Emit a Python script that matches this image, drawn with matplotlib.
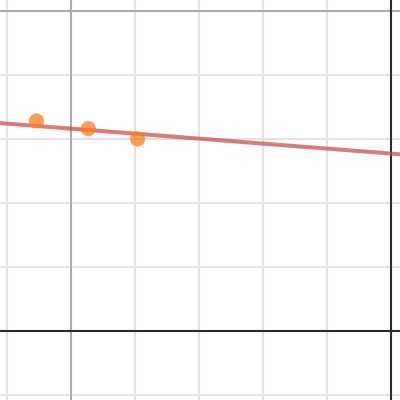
import numpy as np
import matplotlib
matplotlib.use("Agg")
import matplotlib.pyplot as plt

# data
pts_x = [-5.54, -4.73, -3.96]
pts_y = [3.28, 3.16, 3.00]
line_slope = -0.078
line_icpt = 2.77

xlim = (-6.11, 0.14)
ylim = (-1.08, 5.17)

fig = plt.figure(figsize=(4, 4), dpi=100)
ax = fig.add_axes([0, 0, 1, 1])
ax.set_xlim(*xlim)
ax.set_ylim(*ylim)

# grid: minor every unit, major every 5, axes in black
for gx in range(-7, 2):
    if gx == 0:
        ax.axvline(gx, color="#2b2b2b", lw=1.5, zorder=2)
    elif gx % 5 == 0:
        ax.axvline(gx, color="#ababab", lw=1.5, zorder=1)
    else:
        ax.axvline(gx, color="#e2e2e2", lw=1.5, zorder=0)
for gy in range(-2, 7):
    if gy == 0:
        ax.axhline(gy, color="#2b2b2b", lw=1.5, zorder=2)
    elif gy % 5 == 0:
        ax.axhline(gy, color="#ababab", lw=1.5, zorder=1)
    else:
        ax.axhline(gy, color="#e2e2e2", lw=1.5, zorder=0)

xs = np.array(xlim)
ax.plot(xs, line_slope * xs + line_icpt, color="#c74440", alpha=0.7, lw=2.9, zorder=3)
ax.scatter(pts_x, pts_y, s=120, color="#fa7e19", alpha=0.75, edgecolors="none", zorder=4)

ax.set_axis_off()
fig.savefig("out.png", dpi=100)
